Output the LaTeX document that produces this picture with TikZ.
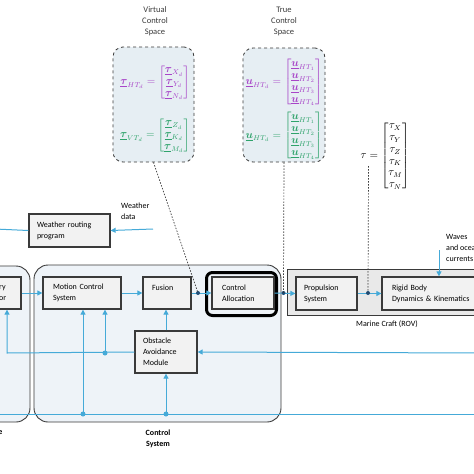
\documentclass[tikz,border=0pt]{standalone}
\usepackage{amsmath}
\usepackage{fontspec}
\setmainfont{Carlito}
\usetikzlibrary{arrows.meta,positioning}

\definecolor{lineblue}{HTML}{45AAD8}
\definecolor{dotnavy}{HTML}{1F4E79}
\definecolor{boxgray}{HTML}{F2F2F2}
\definecolor{groupfill}{HTML}{EEF3F8}
\definecolor{spacefill}{HTML}{E6EEF3}
\definecolor{craftfill}{HTML}{E9E9E9}
\definecolor{vpurple}{HTML}{A845C8}
\definecolor{vgreen}{HTML}{2FA36B}
\definecolor{edgegray}{HTML}{3A3A3A}

\newcommand{\ut}{\underline{\boldsymbol{\tau}}}
\newcommand{\uu}{\underline{\boldsymbol{u}}}

\begin{document}
\begin{tikzpicture}[
    x=1pt, y=-1pt,
    font=\fontsize{8}{11}\selectfont,
    block/.style={draw=edgegray, line width=1.3pt, fill=boxgray, align=left, inner sep=0pt},
    group/.style={draw=edgegray, line width=0.9pt, fill=groupfill, rounded corners=14pt},
    space/.style={draw=edgegray, dashed, line width=0.8pt, fill=spacefill, rounded corners=10pt, inner sep=0pt},
    wire/.style={draw=lineblue, line width=1pt},
    flow/.style={wire, -{Triangle[length=5pt, width=5pt]}},
    dot/.style={circle, fill=lineblue, inner sep=0pt, minimum size=5pt},
    jdot/.style={circle, fill=dotnavy, inner sep=0pt, minimum size=4pt},
    link/.style={draw=edgegray, dash pattern=on 1.5pt off 1.5pt, line width=0.7pt},
    mathtxt/.style={font=\fontsize{10.5}{12}\selectfont\renewcommand{\arraystretch}{0.98}, inner sep=0pt}
    ]
    \useasboundingbox (0,0) rectangle (474,474);

    %Groups
    \draw[group] (-40,266) rectangle (30,422);
    \draw[group] (34,265) rectangle (281,422);
    \draw[draw=edgegray, line width=1pt, fill=craftfill] (287,269) rectangle (490,315);
    \node[font=\fontsize{8}{11}\bfseries\selectfont, anchor=east] at (6,433) {e};
    \node[font=\fontsize{8}{11}\bfseries\selectfont, align=center] at (158,438.5) {Control\\System};
    \node at (387,324) {Marine Craft (ROV)};

    %Spaces
    \node[text=edgegray, align=center, font=\fontsize{8.5}{11}\selectfont] at (155,21) {Virtual\\Control\\Space};
    \node[text=edgegray, align=center, font=\fontsize{8.5}{11}\selectfont] at (284,21) {True\\Control\\Space};
    \node[space, minimum width=81, minimum height=115] (vcs) at (153.5,104.5) {};
    \node[space, minimum width=82, minimum height=114] (tcs) at (284,105) {};
    \node[mathtxt, text=vpurple] (vhd) at (155,82)
        {$\ut_{HT_d} = \begin{bmatrix} \ut_{X_d}\\ \ut_{Y_d}\\ \ut_{N_d} \end{bmatrix}$};
    \node[mathtxt, text=vgreen] (vvd) at (155,135)
        {$\ut_{VT_d} = \begin{bmatrix} \ut_{Z_d}\\ \ut_{K_d}\\ \ut_{M_d} \end{bmatrix}$};
    \node[mathtxt, text=vpurple] (thd) at (284,82)
        {$\uu_{HT_d} = \begin{bmatrix} \uu_{HT_1}\\ \uu_{HT_2}\\ \uu_{HT_3}\\ \uu_{HT_4} \end{bmatrix}$};
    \node[mathtxt, text=vgreen] (tvd) at (284,135.5)
        {$\uu_{HT_d} = \begin{bmatrix} \uu_{HT_1}\\ \uu_{HT_2}\\ \uu_{HT_3}\\ \uu_{HT_4} \end{bmatrix}$};
    \node[mathtxt] (tau) at (385,156)
        {$\tau = \begin{bmatrix} \tau_X\\ \tau_Y\\ \tau_Z\\ \tau_K\\ \tau_M\\ \tau_N \end{bmatrix}$};

    %Nodes
    \node[block, minimum width=80, minimum height=32] (traj) at (-19,293) {};
    \node[anchor=west, align=left, inner sep=0pt] at (-1,293) {ry\\or};
    \node[block, minimum width=81, minimum height=33, text width=65] (wr) at (69.5,230.5) {Weather routing\\program};
    \node[block, minimum width=78, minimum height=32, text width=58] (mcs) at (82,293) {Motion Control\\System};
    \node[block, minimum width=48, minimum height=32, text width=30, text depth=11pt] (fus) at (167,293) {Fusion};
    \node[draw=black, line width=3pt, rounded corners=6pt, minimum width=70, minimum height=43] (caf) at (241.5,294) {};
    \node[block, minimum width=62, minimum height=32, text width=42] (ca) at (243,293) {Control\\Allocation};
    \node[block, minimum width=62, minimum height=42, text width=46] (obs) at (166,352) {Obstacle\\Avoidance\\Module};
    \node[block, minimum width=61, minimum height=33, text width=45] (prop) at (326.5,293.5) {Propulsion\\System};
    \node[block, minimum width=118, minimum height=33, text width=98] (rb) at (441,293.5) {Rigid Body\\Dynamics \& Kinematics};
    \node[anchor=west, align=left, inner sep=0pt] at (121,211.5) {Weather\\data};
    \node[anchor=north west, align=left, inner sep=0pt] at (446,234) {Waves\\and ocean\\currents};

    %Points
    \coordinate (wd) at (153,229);
    \coordinate (wl) at (-5,229);
    \coordinate (wv) at (439,250);
    \coordinate (c1) at (7,353);
    \coordinate (rin) at (480,353);
    \coordinate (bl) at (-5,414);
    \coordinate (br) at (480,414);
    \coordinate (d1) at (105,353);
    \coordinate (d3) at (83,414);
    \coordinate (d4) at (166,414);
    \coordinate (d5) at (198,293);
    \coordinate (d6) at (283.5,293);
    \coordinate (d7) at (368,293);
    \coordinate (tt) at (368.5,166);

    %Lines
    \draw[flow] (wd) -- (wr.east);
    \draw[wire] (wr.west) -- (wl);
    \draw[flow] (traj.east) -- (mcs.west);
    \draw[flow] (mcs.east) -- (fus.west);
    \draw[flow] (fus.east) -- (ca.west);
    \draw[flow] (ca.east) -- (prop.west);
    \draw[flow] (prop.east) -- (rb.west);
    \draw[flow] (wv) -- (wv |- rb.north);
    \draw[flow] (obs.north) -- (obs.north |- fus.south);
    \draw[flow] (obs.west) -- (c1) -- (c1 |- traj.south);
    \draw[flow] (d1) -- (d1 |- mcs.south);
    \draw[flow] (rin) -- (obs.east);
    \draw[wire] (bl) -- (br);
    \draw[flow] (d3) -- (d3 |- mcs.south);
    \draw[flow] (d4) -- (obs.south);

    %Dots
    \node[dot] at (d1) {};
    \node[dot] at (d3) {};
    \node[dot] at (d4) {};
    \node[jdot] at (d5) {};
    \node[jdot] at (d6) {};
    \node[jdot] at (d7) {};

    %Links
    \draw[link] (vcs.south) -- (d5);
    \draw[link] (tcs.south) -- (d6);
    \draw[link] (tt) -- (d7);
\end{tikzpicture}
\end{document}
